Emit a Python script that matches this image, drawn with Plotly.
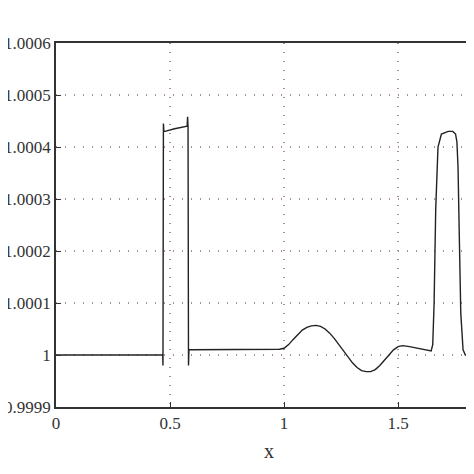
import plotly.graph_objects as go

# density profile
x_vals = [0.0, 0.468, 0.469, 0.471, 0.473, 0.478, 0.52, 0.575, 0.577, 0.579, 0.581, 0.583, 0.59,
          0.70, 0.90, 0.98, 1.00, 1.02, 1.04, 1.06, 1.08, 1.10, 1.12, 1.14, 1.16, 1.18, 1.20,
          1.22, 1.24, 1.26, 1.28, 1.30, 1.32, 1.34, 1.36, 1.38, 1.40, 1.42, 1.44, 1.46, 1.48,
          1.50, 1.52, 1.55, 1.60, 1.635, 1.645, 1.652, 1.658, 1.665, 1.675, 1.69, 1.72,
          1.74, 1.752, 1.758, 1.763, 1.768, 1.775, 1.785, 1.795, 1.87]
y_vals = [1.0, 1.0, 0.99998, 1.000445, 1.00043, 1.00043, 1.000435, 1.00044, 1.000458, 1.00044,
          0.99998, 1.00001, 1.00001, 1.00001, 1.00001, 1.000011, 1.000013, 1.00002, 1.00003,
          1.00004, 1.000048, 1.000053, 1.000056, 1.000057, 1.000055, 1.00005, 1.000042,
          1.000032, 1.00002, 1.000008, 0.999996, 0.999985, 0.999976, 0.99997, 0.999968,
          0.999968, 0.999972, 0.99998, 0.99999, 1.000001, 1.00001, 1.000016, 1.000018,
          1.000016, 1.000012, 1.000008, 1.000008, 1.00002, 1.0001, 1.00028, 1.0004, 1.000425,
          1.00043, 1.00043, 1.000425, 1.00041, 1.00036, 1.00024, 1.00008, 1.00001, 1.0, 1.0]
y_ticks = [0.9999, 1.0, 1.0001, 1.0002, 1.0003, 1.0004, 1.0005, 1.0006]
y_labels = ["0.9999", "1", "1.0001", "1.0002", "1.0003", "1.0004", "1.0005", "1.0006"]
x_ticks = [0, 0.5, 1, 1.5]
x_labels = ["0", "0.5", "1", "1.5"]

fig = go.Figure(go.Scatter(x=x_vals, y=y_vals, mode="lines", line_shape="linear",
                           line=dict(color="#222222", width=1.4)))

grid = dict(showgrid=True, gridcolor="#a89090", griddash="1px,8px", gridwidth=1.5,
            showline=True, linecolor="#333333", linewidth=1.5, mirror=True,
            ticks="inside", ticklen=5, tickcolor="#333333", zeroline=False)

fig.update_xaxes(range=[0, 1.868], tickvals=x_ticks, ticktext=x_labels,
                 automargin=False, title=dict(text="x", standoff=12), **grid)
fig.update_yaxes(range=[0.9999, 1.0006], tickvals=y_ticks, ticktext=y_labels,
                 automargin=False, **grid)

fig.update_layout(
    width=474, height=474,
    margin=dict(l=48, r=0, t=35, b=75, autoexpand=False),
    plot_bgcolor="white", paper_bgcolor="white",
    showlegend=False,
    font=dict(family="Liberation Serif, DejaVu Serif, serif", size=17, color="#333333"),
)

fig.write_html("out.html")
